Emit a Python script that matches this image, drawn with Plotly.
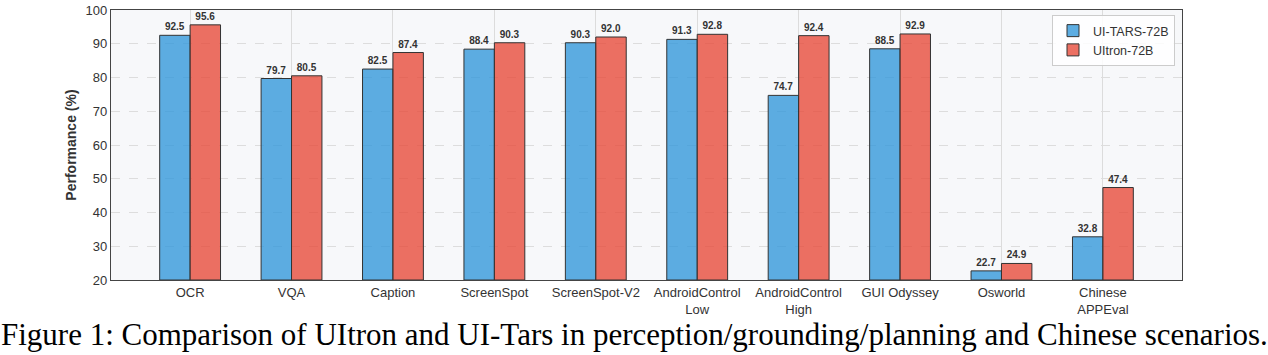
import plotly.graph_objects as go

categories = ["OCR", "VQA", "Caption", "ScreenSpot", "ScreenSpot-V2",
              "AndroidControl<br>Low", "AndroidControl<br>High", "GUI Odyssey",
              "Osworld", "Chinese<br>APPEval"]
ui_tars = [92.5, 79.7, 82.5, 88.4, 90.3, 91.3, 74.7, 88.5, 22.7, 32.8]
uitron = [95.6, 80.5, 87.4, 90.3, 92.0, 92.8, 92.4, 92.9, 24.9, 47.4]
y_ticks = [20, 30, 40, 50, 60, 70, 80, 90, 100]

x = list(range(len(categories)))
base = 20

fig = go.Figure()
for name, vals, color, off in [("UI-TARS-72B", ui_tars, "rgba(52,152,219,0.8)", -0.3),
                               ("UItron-72B", uitron, "rgba(231,76,60,0.8)", 0.0)]:
    fig.add_trace(go.Bar(
        x=x, y=[v - base for v in vals], base=base, name=name,
        width=0.3, offset=off,
        marker=dict(color=color, line=dict(color="#333333", width=1)),
        text=[f"<b>{v:.1f}</b>" for v in vals], textposition="outside",
        textfont=dict(size=10, color="#333333", family="Liberation Sans"),
        cliponaxis=False,
    ))

L, R, T, B = 111, 86, 10, 75
W, H = 1268, 355
pw, ph = W - L - R, H - T - B

fig.update_layout(
    width=W, height=H,
    margin=dict(l=L, r=R, t=T, b=B, autoexpand=False),
    paper_bgcolor="white", plot_bgcolor="#f7f8fa",
    barmode="overlay",
    font=dict(family="Liberation Sans", size=13, color="#333333"),
    showlegend=True,
    legend=dict(x=(1175 - L) / pw, xanchor="right", y=(H - B - 15) / ph, yanchor="top",
                bgcolor="rgba(255,255,255,0.85)", bordercolor="#cccccc", borderwidth=1,
                font=dict(size=12.5, color="#333333"), itemwidth=30,
                tracegroupgap=0),
    xaxis=dict(range=[-0.78, 9.78], tickmode="array", tickvals=x, ticktext=categories,
               showgrid=True, gridcolor="#dcdcdc", gridwidth=1.2, zeroline=False,
               showline=True, linecolor="#444444", linewidth=1.3, mirror=True,
               ticks="", tickfont=dict(size=13, color="#333333"), automargin=False),
    yaxis=dict(range=[20, 100], tickmode="array", tickvals=y_ticks,
               showgrid=True, gridcolor="#dddddd", griddash="dash", gridwidth=1,
               zeroline=False, showline=True, linecolor="#444444", linewidth=1.3,
               mirror=True, ticks="", tickfont=dict(size=13, color="#333333"),
               automargin=False,
               title=dict(text="<b>Performance (%)</b>", font=dict(size=14, color="#333333"),
                          standoff=5)),
    annotations=[dict(
        text="Figure 1: Comparison of UItron and UI-Tars in perception/grounding/planning and Chinese scenarios.",
        x=(634 - L) / pw, xref="paper", xanchor="center",
        y=(H - B - 334) / ph, yref="paper", yanchor="middle", showarrow=False,
        font=dict(family="Liberation Serif", size=31, color="black"))],
)

fig.write_html("out.html", config={"displayModeBar": False},
               post_script="document.body.style.margin='0';document.body.style.padding='0';")
